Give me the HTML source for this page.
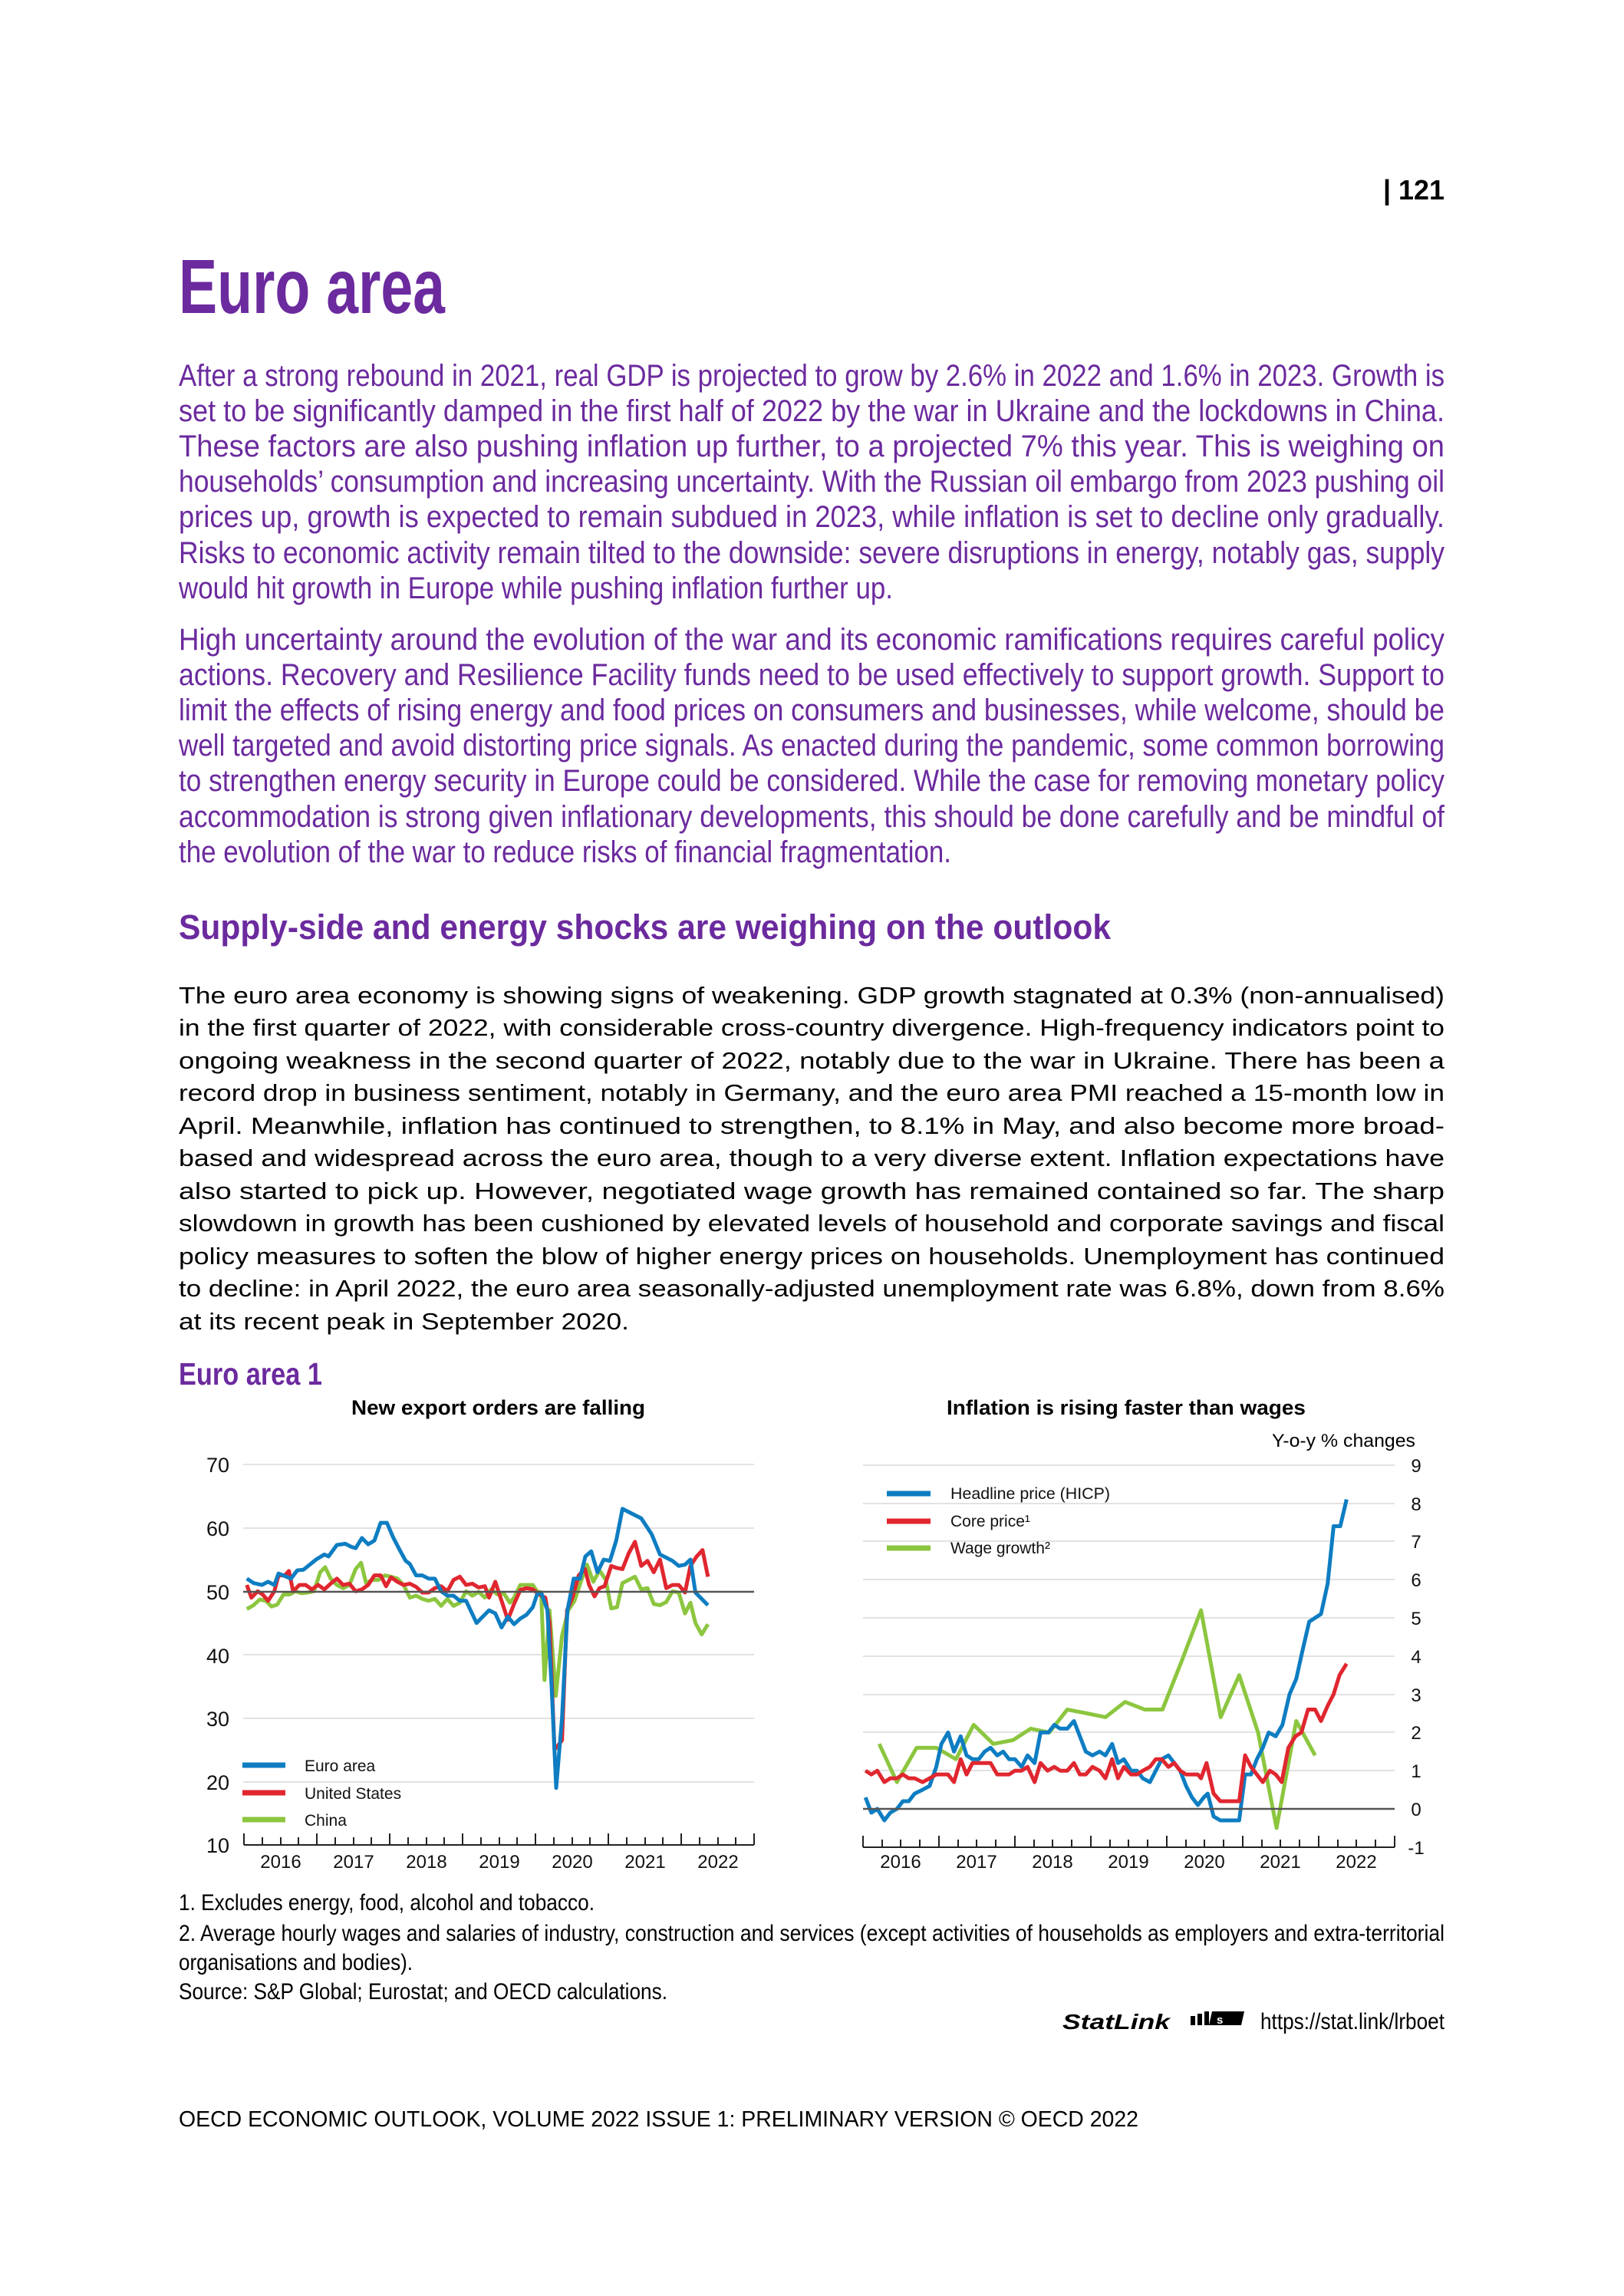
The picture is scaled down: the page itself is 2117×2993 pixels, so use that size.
<!DOCTYPE html>
<html><head><meta charset="utf-8"><style>
html,body{margin:0;padding:0;background:#fff}
svg{display:block}
text{font-family:"Liberation Sans",Arial,sans-serif}
.p{fill:#6b2a9e;font-size:40px}
.b{fill:#000;font-size:31px}
.f{fill:#000;font-size:30px}
.ax{font-size:27px;fill:#111}
.yr{font-size:24px;fill:#111}
.lg{font-size:21px;fill:#111}
.ser{fill:none;stroke-width:5;stroke-linejoin:round;vector-effect:non-scaling-stroke}
.g{stroke:#d9d9d9;stroke-width:1.5}
</style></head><body>
<svg width="2117" height="2993" viewBox="0 0 2117 2993" xmlns="http://www.w3.org/2000/svg">
<rect width="2117" height="2993" fill="#fff"/>
<text x="1803" y="260" font-size="36" font-weight="bold" textLength="80" lengthAdjust="spacingAndGlyphs">| 121</text>
<text x="233" y="408" font-size="100" font-weight="bold" fill="#6b2a9e" textLength="347" lengthAdjust="spacingAndGlyphs">Euro area</text>

<g class="p">
<text x="233" y="503" textLength="1650" lengthAdjust="spacingAndGlyphs">After a strong rebound in 2021, real GDP is projected to grow by 2.6% in 2022 and 1.6% in 2023. Growth is</text>
<text x="233" y="549" textLength="1650" lengthAdjust="spacingAndGlyphs">set to be significantly damped in the first half of 2022 by the war in Ukraine and the lockdowns in China.</text>
<text x="233" y="595" textLength="1650" lengthAdjust="spacingAndGlyphs">These factors are also pushing inflation up further, to a projected 7% this year. This is weighing on</text>
<text x="233" y="641" textLength="1650" lengthAdjust="spacingAndGlyphs">households’ consumption and increasing uncertainty. With the Russian oil embargo from 2023 pushing oil</text>
<text x="233" y="687" textLength="1650" lengthAdjust="spacingAndGlyphs">prices up, growth is expected to remain subdued in 2023, while inflation is set to decline only gradually.</text>
<text x="233" y="734" textLength="1650" lengthAdjust="spacingAndGlyphs">Risks to economic activity remain tilted to the downside: severe disruptions in energy, notably gas, supply</text>
<text x="233" y="780" textLength="931" lengthAdjust="spacingAndGlyphs">would hit growth in Europe while pushing inflation further up.</text>
<text x="233" y="847" textLength="1650" lengthAdjust="spacingAndGlyphs">High uncertainty around the evolution of the war and its economic ramifications requires careful policy</text>
<text x="233" y="893" textLength="1650" lengthAdjust="spacingAndGlyphs">actions. Recovery and Resilience Facility funds need to be used effectively to support growth. Support to</text>
<text x="233" y="939" textLength="1650" lengthAdjust="spacingAndGlyphs">limit the effects of rising energy and food prices on consumers and businesses, while welcome, should be</text>
<text x="233" y="985" textLength="1650" lengthAdjust="spacingAndGlyphs">well targeted and avoid distorting price signals. As enacted during the pandemic, some common borrowing</text>
<text x="233" y="1031" textLength="1650" lengthAdjust="spacingAndGlyphs">to strengthen energy security in Europe could be considered. While the case for removing monetary policy</text>
<text x="233" y="1078" textLength="1650" lengthAdjust="spacingAndGlyphs">accommodation is strong given inflationary developments, this should be done carefully and be mindful of</text>
<text x="233" y="1124" textLength="1007" lengthAdjust="spacingAndGlyphs">the evolution of the war to reduce risks of financial fragmentation.</text>
</g>

<text x="233" y="1224" font-size="45" font-weight="bold" fill="#6b2a9e" textLength="1215" lengthAdjust="spacingAndGlyphs">Supply-side and energy shocks are weighing on the outlook</text>

<g class="b">
<text x="233" y="1308" textLength="1650" lengthAdjust="spacingAndGlyphs">The euro area economy is showing signs of weakening. GDP growth stagnated at 0.3% (non-annualised)</text>
<text x="233" y="1350" textLength="1650" lengthAdjust="spacingAndGlyphs">in the first quarter of 2022, with considerable cross-country divergence. High-frequency indicators point to</text>
<text x="233" y="1393" textLength="1650" lengthAdjust="spacingAndGlyphs">ongoing weakness in the second quarter of 2022, notably due to the war in Ukraine. There has been a</text>
<text x="233" y="1435" textLength="1650" lengthAdjust="spacingAndGlyphs">record drop in business sentiment, notably in Germany, and the euro area PMI reached a 15-month low in</text>
<text x="233" y="1478" textLength="1650" lengthAdjust="spacingAndGlyphs">April. Meanwhile, inflation has continued to strengthen, to 8.1% in May, and also become more broad-</text>
<text x="233" y="1520" textLength="1650" lengthAdjust="spacingAndGlyphs">based and widespread across the euro area, though to a very diverse extent. Inflation expectations have</text>
<text x="233" y="1563" textLength="1650" lengthAdjust="spacingAndGlyphs">also started to pick up. However, negotiated wage growth has remained contained so far. The sharp</text>
<text x="233" y="1605" textLength="1650" lengthAdjust="spacingAndGlyphs">slowdown in growth has been cushioned by elevated levels of household and corporate savings and fiscal</text>
<text x="233" y="1648" textLength="1650" lengthAdjust="spacingAndGlyphs">policy measures to soften the blow of higher energy prices on households. Unemployment has continued</text>
<text x="233" y="1690" textLength="1650" lengthAdjust="spacingAndGlyphs">to decline: in April 2022, the euro area seasonally-adjusted unemployment rate was 6.8%, down from 8.6%</text>
<text x="233" y="1733" textLength="587" lengthAdjust="spacingAndGlyphs">at its recent peak in September 2020.</text>
</g>

<text x="233" y="1805" font-size="41" font-weight="bold" fill="#6b2a9e" textLength="187" lengthAdjust="spacingAndGlyphs">Euro area 1</text>

<!-- LEFT CHART -->
<text x="458" y="1844" font-size="27" font-weight="bold" textLength="383" lengthAdjust="spacingAndGlyphs">New export orders are falling</text>
<g class="g">
<line x1="317" y1="1909" x2="983" y2="1909"/>
<line x1="317" y1="1992" x2="983" y2="1992"/>
<line x1="317" y1="2157" x2="983" y2="2157"/>
<line x1="317" y1="2240" x2="983" y2="2240"/>
<line x1="317" y1="2323" x2="983" y2="2323"/>
</g>
<g class="ax" text-anchor="end">
<text x="299" y="1919">70</text><text x="299" y="2002">60</text><text x="299" y="2085">50</text>
<text x="299" y="2168">40</text><text x="299" y="2250">30</text><text x="299" y="2333">20</text><text x="299" y="2415">10</text>
</g>
<g stroke="#222" stroke-width="2">
<line x1="318" y1="2405" x2="983" y2="2405"/>
<path d="M318 2390V2405M342 2395V2405M366 2395V2405M389 2395V2405M413 2390V2405M437 2395V2405M461 2395V2405M484 2395V2405M508 2390V2405M532 2395V2405M556 2395V2405M579 2395V2405M603 2390V2405M627 2395V2405M651 2395V2405M674 2395V2405M698 2390V2405M722 2395V2405M746 2395V2405M769 2395V2405M793 2390V2405M817 2395V2405M841 2395V2405M864 2395V2405M888 2390V2405M912 2395V2405M936 2395V2405M959 2395V2405M983 2390V2405"/>
</g>
<g class="yr" text-anchor="middle">
<text x="366" y="2435">2016</text><text x="461" y="2435">2017</text><text x="556" y="2435">2018</text><text x="651" y="2435">2019</text><text x="746" y="2435">2020</text><text x="841" y="2435">2021</text><text x="936" y="2435">2022</text>
</g>
<g transform="matrix(0.5435,0,0,-8.267,200,2487.7)">
<polyline class="ser" stroke="#8cc63f" points="224,47.2 240,47.8 255,48.7 270,48.5 283,47.6 297,47.9 312,49.5 327,49.5 340,50 355,49.7 370,49.8 385,50 400,53 412,53.8 425,52 440,51 455,50.5 470,51 485,53.5 498,54.5 510,51.3 525,51.8 540,51.8 555,52.5 570,52.3 585,52 600,51 615,49 630,49.3 645,48.8 660,48.5 675,48.8 690,47.7 705,48.8 720,47.7 735,48.2 750,50 765,49.3 780,49.9 795,49 810,50.3 825,49.5 840,49.7 855,48.2 865,49 880,51 895,51 910,51 920,50 930,49.8 938,36 950,47 965,33.5 980,43 995,47 1010,48.5 1025,51.5 1040,54.2 1055,51.5 1070,53.3 1085,51.8 1098,47.3 1112,47.5 1125,51.3 1140,51.8 1155,52.3 1170,50.3 1185,50.5 1200,48 1215,47.8 1230,48.3 1245,50 1260,49.8 1275,46.5 1288,48.2 1300,45 1315,43.2 1330,44.8"/>
<polyline class="ser" stroke="#e0262f" points="224,51 235,49 250,50 262,49.5 275,48.5 290,50 300,52.5 315,52.5 325,53.2 335,50 350,51 365,51 380,50.3 395,51 410,50.3 425,51.2 440,52 455,51 470,51.2 485,50 500,50.3 515,51 530,52.5 545,52.5 558,50.8 570,52.2 585,51.5 600,51 615,51.2 630,50.7 645,49.8 660,49.8 675,50.5 690,50.8 705,50 720,51.8 735,52.3 750,51 765,51.2 780,50.6 795,50.8 805,49 820,51.5 835,48.5 850,45.5 865,48 880,50.2 895,50.5 910,50.3 925,49.5 940,49 950,45 962,25 980,26.5 992,47 1005,49 1020,52.5 1035,53.5 1045,51 1058,49.2 1070,50.5 1082,50.8 1098,54 1110,53.7 1125,53.5 1140,56 1155,57.8 1170,54 1185,54.8 1200,53 1215,55 1230,50.5 1245,51 1260,51 1275,49.8 1288,54 1303,55.5 1317,56.5 1330,52.3"/>
<polyline class="ser" stroke="#0e7dc2" points="224,52 240,51.3 260,51 275,51.5 290,51 300,52.8 330,52 345,53.3 360,53.4 390,55 410,55.8 420,55.5 440,57.3 460,57.5 475,57 485,56.8 500,58.4 515,57.4 530,58 545,60.8 560,60.8 575,58.5 590,56.6 605,54.8 615,54.3 630,52.5 645,52.5 660,52 675,52 690,50 705,49.3 720,49.3 735,48.5 750,48.5 775,45 790,46 805,47 820,46.5 835,44.3 850,46 865,44.8 880,45.7 895,46.3 910,47.5 920,49.5 930,49.8 945,47 955,35 966,19 980,30 993,47 1008,52 1023,52 1036,55.5 1050,56.3 1065,53 1080,55 1095,54.8 1110,58 1125,63 1140,62.5 1155,62 1170,61.5 1185,60 1195,59 1215,55.8 1230,55.3 1245,54.8 1260,54 1275,54.2 1288,55 1300,49.8 1315,48.8 1330,47.8"/>
</g>
<line x1="317" y1="2075" x2="983" y2="2075" stroke="#555" stroke-width="2.5"/>
<g stroke-width="7">
<line x1="316" y1="2301" x2="372" y2="2301" stroke="#0e7dc2"/>
<line x1="316" y1="2337" x2="372" y2="2337" stroke="#e0262f"/>
<line x1="316" y1="2372" x2="372" y2="2372" stroke="#8cc63f"/>
</g>
<g class="lg">
<text x="397" y="2309">Euro area</text><text x="397" y="2345">United States</text><text x="397" y="2380">China</text>
</g>

<!-- RIGHT CHART -->
<text x="1234" y="1844" font-size="27" font-weight="bold" textLength="468" lengthAdjust="spacingAndGlyphs">Inflation is rising faster than wages</text>
<text x="1658" y="1886" font-size="24" textLength="187" lengthAdjust="spacingAndGlyphs">Y-o-y % changes</text>
<g class="g">
<line x1="1125" y1="1910" x2="1818" y2="1910"/><line x1="1125" y1="1960" x2="1818" y2="1960"/>
<line x1="1125" y1="2009" x2="1818" y2="2009"/><line x1="1125" y1="2059" x2="1818" y2="2059"/>
<line x1="1125" y1="2109" x2="1818" y2="2109"/><line x1="1125" y1="2159" x2="1818" y2="2159"/>
<line x1="1125" y1="2209" x2="1818" y2="2209"/><line x1="1125" y1="2258" x2="1818" y2="2258"/>
<line x1="1125" y1="2308" x2="1818" y2="2308"/>
</g>
<g class="yr" text-anchor="middle" font-size="25">
<text x="1846" y="1919">9</text><text x="1846" y="1969">8</text><text x="1846" y="2018">7</text><text x="1846" y="2068">6</text><text x="1846" y="2118">5</text><text x="1846" y="2168">4</text><text x="1846" y="2218">3</text><text x="1846" y="2267">2</text><text x="1846" y="2317">1</text><text x="1846" y="2367">0</text><text x="1846" y="2417">-1</text>
</g>
<g stroke="#222" stroke-width="2">
<line x1="1125" y1="2408" x2="1818" y2="2408"/>
<path d="M1125 2393V2408M1150 2398V2408M1174 2398V2408M1199 2398V2408M1224 2393V2408M1249 2398V2408M1273 2398V2408M1298 2398V2408M1323 2393V2408M1348 2398V2408M1372 2398V2408M1397 2398V2408M1422 2393V2408M1447 2398V2408M1471 2398V2408M1496 2398V2408M1521 2393V2408M1546 2398V2408M1570 2398V2408M1595 2398V2408M1620 2393V2408M1645 2398V2408M1669 2398V2408M1694 2398V2408M1719 2393V2408M1744 2398V2408M1768 2398V2408M1793 2398V2408M1818 2393V2408"/>
</g>
<g class="yr" text-anchor="middle">
<text x="1174" y="2435">2016</text><text x="1273" y="2435">2017</text><text x="1372" y="2435">2018</text><text x="1471" y="2435">2019</text><text x="1570" y="2435">2020</text><text x="1669" y="2435">2021</text><text x="1768" y="2435">2022</text>
</g>
<g transform="matrix(0.5128,0,0,-49.8,1100,2358)">
<polyline class="ser" stroke="#8cc63f" points="90,1.7 135,0.7 185,1.6 235,1.6 285,1.3 330,2.2 380,1.7 430,1.8 475,2.1 522,2.0 568,2.6 618,2.5 665,2.4 715,2.8 765,2.6 810,2.6 860,3.9 908,5.2 958,2.4 1005,3.5 1053,2.0 1100,-0.5 1150,2.3 1198,1.4"/>
<polyline class="ser" stroke="#0e7dc2" points="55,0.3 70,-0.1 85,0 103,-0.3 118,-0.1 135,0 150,0.2 165,0.2 180,0.4 200,0.5 218,0.6 235,1.1 248,1.7 265,2.0 280,1.5 297,1.9 312,1.4 327,1.3 343,1.3 358,1.5 373,1.6 390,1.4 405,1.5 420,1.3 435,1.3 452,1.1 467,1.4 485,1.2 500,2.0 520,2.0 535,2.2 550,2.1 568,2.1 585,2.3 600,1.9 615,1.5 632,1.4 650,1.5 665,1.4 682,1.7 697,1.2 712,1.3 730,1.0 745,1.0 760,0.8 778,0.7 793,1.0 808,1.3 825,1.4 840,1.2 855,1.0 870,0.6 885,0.3 900,0.1 915,0.3 925,0.4 940,-0.2 957,-0.3 975,-0.3 990,-0.3 1005,-0.3 1020,0.9 1035,0.9 1050,1.3 1065,1.6 1080,2.0 1098,1.9 1115,2.2 1133,3.0 1150,3.4 1165,4.1 1183,4.9 1198,5.0 1213,5.1 1230,5.9 1245,7.4 1262,7.4 1278,8.1"/>
<polyline class="ser" stroke="#e0262f" points="55,1.0 70,0.9 85,1.0 103,0.7 118,0.8 135,0.8 150,0.9 165,0.8 180,0.8 200,0.7 218,0.8 235,0.9 250,0.9 265,0.9 280,0.7 297,1.3 312,0.9 327,1.2 343,1.2 358,1.2 373,1.2 390,0.9 405,0.9 420,0.9 435,1.0 452,1.0 467,1.1 485,0.7 500,1.2 518,1.0 535,1.1 550,1.0 568,1.0 585,1.2 600,0.9 615,0.9 632,1.1 650,1.0 665,0.8 682,1.3 697,0.8 712,1.1 730,0.9 745,0.9 760,1.0 778,1.1 793,1.3 808,1.3 825,1.1 840,1.2 855,1.0 870,0.9 885,0.9 900,0.9 908,0.8 922,1.2 940,0.4 957,0.2 975,0.2 990,0.2 1005,0.2 1020,1.4 1035,1.1 1050,0.9 1065,0.7 1083,1.0 1098,0.9 1113,0.7 1130,1.6 1148,1.9 1163,2.0 1180,2.6 1198,2.6 1213,2.3 1230,2.7 1245,3.0 1260,3.5 1278,3.8"/>
</g>
<line x1="1125" y1="2358" x2="1818" y2="2358" stroke="#555" stroke-width="2.5"/>
<g stroke-width="7">
<line x1="1156" y1="1947" x2="1213" y2="1947" stroke="#0e7dc2"/>
<line x1="1156" y1="1983" x2="1213" y2="1983" stroke="#e0262f"/>
<line x1="1156" y1="2018" x2="1213" y2="2018" stroke="#8cc63f"/>
</g>
<g class="lg" font-size="20">
<text x="1239" y="1954" textLength="208" lengthAdjust="spacingAndGlyphs">Headline price (HICP)</text>
<text x="1239" y="1990">Core price¹</text>
<text x="1239" y="2025">Wage growth²</text>
</g>

<!-- footnotes -->
<g class="f">
<text x="233" y="2490" textLength="542" lengthAdjust="spacingAndGlyphs">1. Excludes energy, food, alcohol and tobacco.</text>
<text x="233" y="2530" textLength="1650" lengthAdjust="spacingAndGlyphs">2. Average hourly wages and salaries of industry, construction and services (except activities of households as employers and extra-territorial</text>
<text x="233" y="2568" textLength="305" lengthAdjust="spacingAndGlyphs">organisations and bodies).</text>
<text x="233" y="2606" textLength="637" lengthAdjust="spacingAndGlyphs">Source: S&amp;P Global; Eurostat; and OECD calculations.</text>
</g>
<text x="1385" y="2645" font-family="Liberation Mono" font-size="28" font-style="italic" font-weight="bold" textLength="140" lengthAdjust="spacingAndGlyphs">StatLink</text>
<g fill="#000">
<rect x="1552" y="2628" width="6" height="12"/><rect x="1561" y="2625" width="6" height="15"/><rect x="1570" y="2622" width="6" height="18"/>
<path d="M1580 2622 L1622 2622 L1618 2640 L1576 2640 Z"/>
</g>
<text x="1586" y="2638" font-size="15" font-weight="bold" fill="#fff">s</text>
<text x="1643" y="2645" font-size="30" textLength="240" lengthAdjust="spacingAndGlyphs">https://stat.link/lrboet</text>
<text x="233" y="2772" font-size="29" textLength="1251" lengthAdjust="spacingAndGlyphs">OECD ECONOMIC OUTLOOK, VOLUME 2022 ISSUE 1: PRELIMINARY VERSION © OECD 2022</text>
</svg>
</body></html>
